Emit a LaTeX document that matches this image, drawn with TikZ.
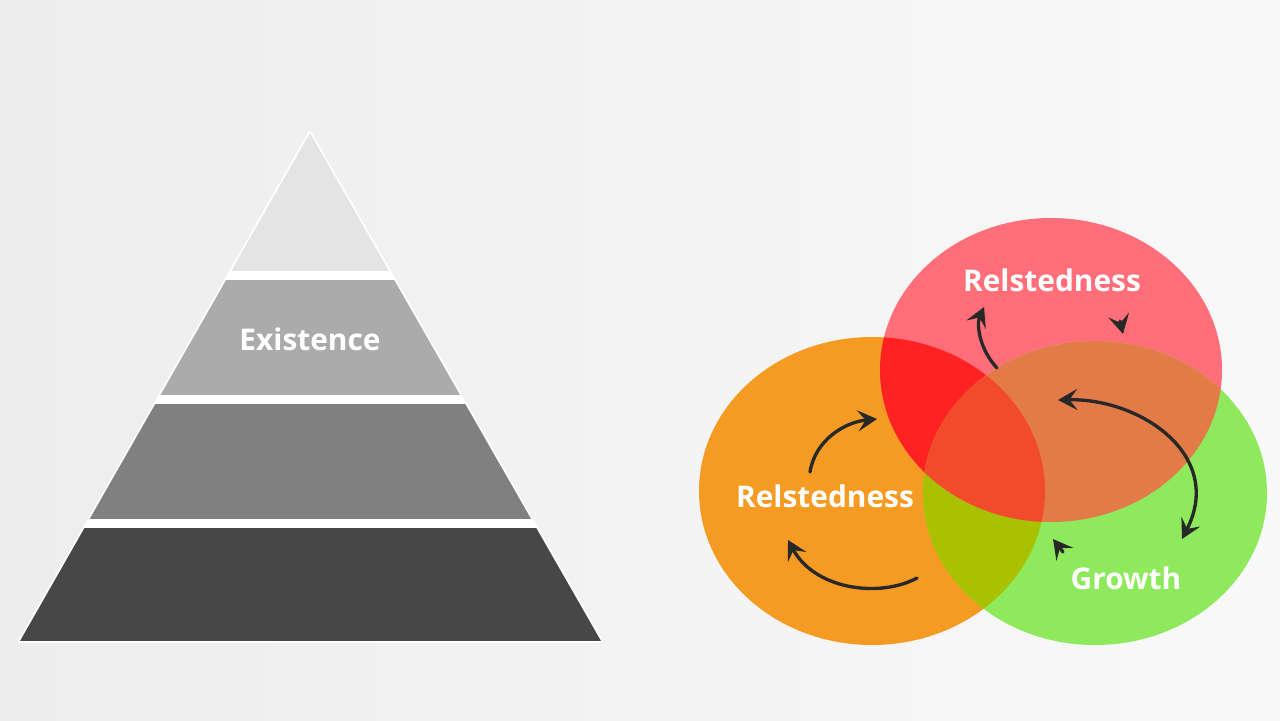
\documentclass[tikz,border=0pt]{standalone}
\usepackage{fontspec}
\setmainfont{Open Sans}
\usetikzlibrary{arrows.meta}

\definecolor{bgl}{RGB}{237,237,237}
\definecolor{bgr}{RGB}{249,249,249}
\definecolor{layA}{RGB}{228,228,228}
\definecolor{layB}{RGB}{171,171,171}
\definecolor{layC}{RGB}{128,128,128}
\definecolor{layD}{RGB}{71,71,71}
\definecolor{orng}{RGB}{245,155,35}
\definecolor{pnk}{RGB}{255,110,121}
\definecolor{grn}{RGB}{142,234,92}
\definecolor{orpk}{RGB}{255,34,34}
\definecolor{orgr}{RGB}{169,193,0}
\definecolor{pkgr}{RGB}{226,123,72}
\definecolor{allc}{RGB}{242,74,44}
\definecolor{ink}{RGB}{40,40,40}

\tikzset{
  lbl/.style={text=white, font=\fontsize{17}{19}\selectfont\bfseries},
  tip/.tip={Stealth[length=11pt, width=12pt, inset=4.5pt]},
  arr/.style={ink, line width=1.9pt, line cap=round, -tip},
}

\newcommand{\ellO}{(872,491) ellipse (173 and 154)}
\newcommand{\ellR}{(1051,370) ellipse (171 and 152)}
\newcommand{\ellG}{(1095,493) ellipse (172 and 152)}
\newcommand{\pyr}{(310,133) -- (601,641) -- (20,641) -- cycle}

\begin{document}
\begin{tikzpicture}[x=0.02cm, y=-0.02cm]
\shade[left color=bgl, right color=bgr] (0,0) rectangle (1280,720);
\useasboundingbox (0,0) rectangle (1280,720);

\fill[white, draw=white, line width=2pt, line join=round] \pyr;
\begin{scope}
\clip \pyr;
\fill[layA] (0,120) rectangle (640,271);
\fill[layB] (0,280) rectangle (640,395);
\fill[layC] (0,404) rectangle (640,519);
\fill[layD] (0,528) rectangle (640,641);
\end{scope}
\node[lbl] (exist) at (310,339) {Existence};

\fill[orng] \ellO;
\fill[pnk] \ellR;
\fill[grn] \ellG;
\begin{scope}
\clip \ellO;
\fill[orpk] \ellR;
\fill[orgr] \ellG;
\end{scope}
\begin{scope}
\clip \ellR;
\fill[pkgr] \ellG;
\end{scope}
\begin{scope}
\clip \ellO;
\clip \ellR;
\fill[allc] \ellG;
\end{scope}

\node[lbl] (relT) at (1052,280) {Relstedness};
\node[lbl] (relL) at (825,496) {Relstedness};
\node[lbl] (grow) at (1126,578) {Growth};

\draw[arr] (810,472) .. controls (815,440) and (845,422) .. (877,419);
\draw[arr] (917,578) .. controls (880,598) and (815,590) .. (788,540);
\draw[arr] (997,368) .. controls (980,350) and (976,325) .. (984,307);
\draw[arr] (1120,321) -- (1123,334);
\draw[arr, tip-tip] (1058,400) .. controls (1140,398) and (1225,455) .. (1182,539);
\draw[arr] (1063,552) -- (1053,539);
\end{tikzpicture}
\end{document}
